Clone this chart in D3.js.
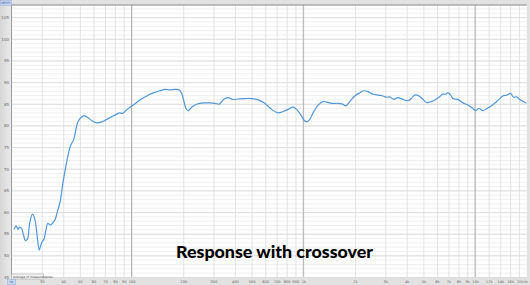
<!DOCTYPE html>
<html>
<head>
<meta charset="utf-8">
<script src="https://cdn.jsdelivr.net/npm/d3@7"></script>
<style>
    body { margin: 0; background: #ffffff; }
    #chart { width: 530px; height: 285px; }
    .tick text { font-family: "DejaVu Sans", sans-serif; fill: #666; }
</style>
</head>
<body>
<div id="chart"></div>
<script>
var freqs = [20.7, 21.3, 21.8, 22.3, 22.9, 23.5, 24.1, 24.8, 25.5, 26.5, 27.4, 28.1, 29.0, 29.4, 30.1, 30.9,
    31.7, 32.6, 33.6, 34.8, 35.9, 37.0, 38.4, 39.8, 41.4, 42.9, 44.3, 45.9, 48.4, 50.2, 52.5, 55.3,
    58.7, 62.8, 67.1, 71.8, 76.7, 82.0, 85.0, 88.9, 92.9, 98.0, 102.4, 112.1, 122.6, 133.9, 146.4, 156.6,
    167.5, 179.0, 189.6, 195.8, 202.0, 207.5, 213.9, 223.9, 239.4, 261.5, 286.1, 305.9, 324.0, 334.5,
    349.6, 365.4, 387.6, 417.7, 457.0, 499.7, 546.0, 597.3, 653.4, 713.9, 763.1, 815.7, 872.3, 912.9,
    954.3, 1011, 1052, 1091, 1140, 1219, 1304, 1394, 1459, 1594, 1690, 1767, 1863, 1993, 2130, 2247,
    2381, 2546, 2722, 2911, 3045, 3184, 3359, 3557, 3804, 4068, 4257, 4449, 4713, 4972, 5204, 5564,
    5894, 6218, 6447, 6738, 6949, 7205, 7430, 7943, 8495, 9081, 9710, 10070, 10520, 11100, 11710, 12420,
    12990, 13760, 14510, 15300, 16080, 16750, 17500, 18150, 19140, 19860];

var spl = [56.0, 56.8, 56.0, 56.5, 56.2, 54.7, 53.4, 53.8, 57.4, 59.5, 58.2, 55.1, 51.2, 51.9, 53.1, 53.7,
    55.8, 57.4, 57.0, 57.5, 58.3, 60.1, 62.4, 66.6, 70.5, 73.5, 75.5, 76.6, 80.5, 81.6, 82.2, 81.9,
    81.1, 80.6, 80.8, 81.4, 82.0, 82.6, 82.9, 82.8, 83.5, 84.2, 84.7, 85.9, 86.8, 87.5, 88.0, 88.3,
    88.2, 88.3, 88.2, 87.4, 85.5, 83.9, 83.4, 84.2, 84.9, 85.2, 85.2, 85.1, 84.9, 85.5,
    86.2, 86.4, 86.0, 86.1, 86.2, 86.2, 85.9, 85.1, 83.7, 82.9, 83.2, 83.7, 84.2, 83.7,
    82.8, 81.2, 80.8, 81.4, 82.9, 84.7, 85.5, 85.3, 85.1, 85.1, 84.9, 84.5, 85.5, 86.8, 87.5, 88.0,
    87.8, 87.2, 87.0, 86.8, 86.5, 86.6, 86.0, 86.4, 86.0, 85.7, 86.2, 87.0, 86.8, 86.0, 85.3, 85.5,
    86.0, 86.6, 87.2, 87.2, 87.5, 87.0, 86.2, 86.0, 85.2, 84.7, 83.9, 83.4, 83.9, 83.4, 83.9, 84.5,
    85.1, 86.0, 86.8, 87.0, 87.4, 86.5, 86.6, 86.0, 85.5, 85.1];

var dbTicks = [45, 50, 55, 60, 65, 70, 75, 80, 85, 90, 95, 100, 105];
var freqTicks = [30, 40, 50, 60, 70, 80, 90, 100, 200, 300, 400, 500, 600, 700, 800, 900,
    1000, 2000, 3000, 4000, 5000, 6000, 7000, 8000, 9000, 10000, 12000, 14000, 16000, 18000];
var freqLabels = [30, 40, 50, 60, 70, 80, 90, 100, 200, 300, 400, 500, 600, 700, 800, 900,
    1000, 2000, 3000, 4000, 5000, 6000, 7000, 8000, 9000, 10000, 12000, 14000, 16000];
var decadeTicks = [100, 1000, 10000];

var chartTitle = "Response with crossover";
var legendLabel = "Average of measurements";


ResponseChart = function(_parentElement) {
    this.parentElement = _parentElement;
    this.initVis();
};

ResponseChart.prototype.initVis = function() {
    var vis = this;

    vis.W = 530;
    vis.H = 285;
    vis.margin = {top: 5, right: 3.2, bottom: 8, left: 11.5};
    vis.width = vis.W - vis.margin.left - vis.margin.right;
    vis.height = vis.H - vis.margin.top - vis.margin.bottom;

    vis.svg = d3.select("#" + vis.parentElement).append("svg")
        .attr("width", vis.W)
        .attr("height", vis.H);

    // grey frame behind the axes
    var grad = vis.svg.append("defs").append("linearGradient")
        .attr("id", "leftpanel")
        .attr("x1", 0).attr("x2", 1).attr("y1", 0).attr("y2", 0);
    grad.append("stop").attr("offset", "0%").attr("stop-color", "#d6d6d6");
    grad.append("stop").attr("offset", "100%").attr("stop-color", "#ebebeb");

    vis.svg.append("rect")
        .attr("width", vis.W).attr("height", vis.H)
        .attr("fill", "#e2e2e2");
    vis.svg.append("rect")
        .attr("width", vis.margin.left).attr("height", vis.H)
        .attr("fill", "url(#leftpanel)");

    vis.g = vis.svg.append("g")
        .attr("transform", "translate(" + vis.margin.left + "," + vis.margin.top + ")");

    vis.g.append("rect")
        .attr("width", vis.width).attr("height", vis.height)
        .attr("fill", "#ffffff");

    vis.x = d3.scaleLog()
        .domain([20, 20000])
        .range([0, vis.width]);

    vis.y = d3.scaleLinear()
        .domain([45, 107.8])
        .range([vis.height, 0]);

    vis.updateVis();
};

ResponseChart.prototype.updateVis = function() {
    var vis = this;

    // minor dB grid, 1 dB apart
    vis.g.append("g")
        .call(d3.axisLeft(vis.y).tickValues(d3.range(46, 108, 1)).tickSize(-vis.width).tickFormat(""))
        .call(function(g) {
            g.select(".domain").remove();
            g.selectAll("line").attr("stroke", "#ececec").attr("stroke-width", 0.8);
        });

    // major dB grid + labels
    vis.g.append("g")
        .call(d3.axisLeft(vis.y).tickValues(dbTicks).tickSize(-vis.width).tickPadding(2.5))
        .call(function(g) {
            g.select(".domain").remove();
            g.selectAll("line").attr("stroke", "#d8d8d8").attr("stroke-width", 0.8);
            g.selectAll("text").attr("font-size", 4).attr("fill", "#777");
        });

    // frequency grid + labels
    vis.g.append("g")
        .attr("transform", "translate(0," + vis.height + ")")
        .call(d3.axisBottom(vis.x).tickValues(freqTicks).tickSize(vis.height).tickPadding(-vis.height + 3.5)
            .tickFormat(function(d) {
                if (freqLabels.indexOf(d) < 0) return "";
                return d >= 1000 ? (d / 1000) + "k" : d;
            }))
        .call(function(g) {
            g.select(".domain").remove();
            g.selectAll("line").attr("y2", -vis.height).attr("stroke", "#dcdcdc").attr("stroke-width", 0.8);
            g.selectAll("text").attr("font-size", 3.6).attr("fill", "#777");
        });

    vis.g.selectAll(".decade")
        .data(decadeTicks)
        .enter().append("line")
        .attr("class", "decade")
        .attr("x1", function(d) { return vis.x(d); })
        .attr("x2", function(d) { return vis.x(d); })
        .attr("y1", 0)
        .attr("y2", vis.height)
        .attr("stroke", "#a8a8a8")
        .attr("stroke-width", 0.9);

    // plot frame
    vis.g.append("line")
        .attr("x1", 0).attr("x2", vis.width).attr("y1", 0).attr("y2", 0)
        .attr("stroke", "#8a8a8a").attr("stroke-width", 1);
    vis.g.append("line")
        .attr("x1", 0).attr("x2", 0).attr("y1", 0).attr("y2", vis.height)
        .attr("stroke", "#9a9a9a").attr("stroke-width", 1);

    // the trace
    var points = freqs.map(function(f, i) { return {f: f, db: spl[i]}; });
    var line = d3.line()
        .x(function(d) { return vis.x(d.f); })
        .y(function(d) { return vis.y(d.db); })
        .curve(d3.curveCatmullRom.alpha(0.5));

    vis.g.append("path")
        .datum(points)
        .attr("d", line)
        .attr("fill", "none")
        .attr("stroke", "#4f97d8")
        .attr("stroke-width", 1.2);

    // unit tags in the corners
    vis.svg.append("rect")
        .attr("x", 0.5).attr("y", 0.5).attr("width", 11).attr("height", 5)
        .attr("fill", "#c9d9f2").attr("stroke", "#8fa8d8").attr("stroke-width", 0.5);
    vis.svg.append("text")
        .attr("x", 6).attr("y", 4.3)
        .attr("text-anchor", "middle")
        .attr("font-family", "DejaVu Sans, sans-serif").attr("font-size", 3.2)
        .attr("fill", "#3a5fa8")
        .text("dBSPL");

    vis.svg.append("rect")
        .attr("x", 7.5).attr("y", 279.5).attr("width", 8).attr("height", 5)
        .attr("fill", "#c9d9f2").attr("stroke", "#8fa8d8").attr("stroke-width", 0.5);
    vis.svg.append("text")
        .attr("x", 11.5).attr("y", 283.3)
        .attr("text-anchor", "middle")
        .attr("font-family", "DejaVu Sans, sans-serif").attr("font-size", 3.2)
        .attr("fill", "#3a5fa8")
        .text("Hz");

    vis.svg.append("text")
        .attr("x", 528).attr("y", 282.5)
        .attr("text-anchor", "end")
        .attr("font-family", "DejaVu Sans, sans-serif").attr("font-size", 3.6)
        .attr("fill", "#777")
        .text("20kHz");

    // trace legend
    vis.svg.append("rect")
        .attr("x", 11.5).attr("y", 274).attr("width", 32).attr("height", 5)
        .attr("fill", "#f6f6f6").attr("stroke", "#9a9a9a").attr("stroke-width", 0.5);
    vis.svg.append("text")
        .attr("x", 13).attr("y", 277.6)
        .attr("font-family", "DejaVu Sans, sans-serif").attr("font-size", 3)
        .attr("fill", "#444")
        .text(legendLabel);

    vis.svg.append("text")
        .attr("x", 176).attr("y", 258.3)
        .attr("font-family", "Lato, 'Noto Sans', sans-serif")
        .attr("font-weight", 900)
        .attr("font-size", 16)
        .attr("textLength", 197)
        .attr("lengthAdjust", "spacingAndGlyphs")
        .attr("fill", "#000000")
        .text(chartTitle);
};

var chart = new ResponseChart("chart");
</script>
</body>
</html>
